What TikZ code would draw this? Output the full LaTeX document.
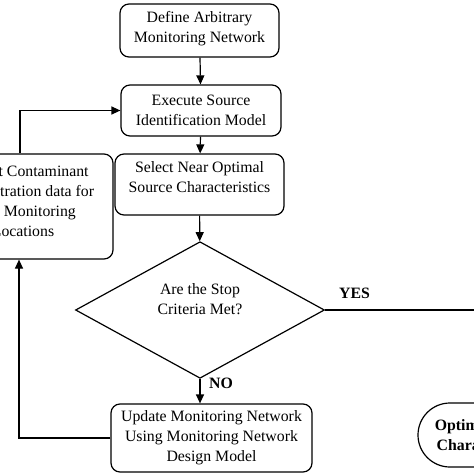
\documentclass[tikz,border=0pt]{standalone}
\usepackage{fontspec}
\setmainfont{Liberation Serif}
\usetikzlibrary{arrows.meta,shapes.geometric}

\begin{document}
\begin{tikzpicture}[x=1pt,y=-1pt,
    every node/.style={font=\fontsize{15.8}{20}\selectfont},
    box/.style={draw, line width=1.2pt, rounded corners=9pt, align=center, inner sep=0pt},
    decision/.style={draw, diamond, line width=1.2pt, align=center, inner sep=0pt},
    stadium/.style={draw, line width=1.2pt, rounded corners=32pt, align=center, inner sep=0pt},
    flow/.style={line width=1.2pt, -{Triangle[length=9pt,width=8pt]}}]
          \useasboundingbox (0,0) rectangle (474,474);
          \clip (0,0) rectangle (474,474);
          \node[box, minimum width=159pt, minimum height=53pt, text depth=7pt] (define) at (199.5,30.5) {Define Arbitrary\\Monitoring Network};
          \node[box, minimum width=160pt, minimum height=51pt] (execute) at (201,110.5) {Execute Source\\Identification Model};
          \node[box, minimum width=169pt, minimum height=61pt, text depth=15pt] (select) at (199.5,184.5) {Select Near Optimal\\Source Characteristics};
          \node[decision, minimum width=249pt, minimum height=126pt, text depth=21pt] (stop) at (200,310) {Are the Stop\\Criteria Met?};
          \node[box, minimum width=201pt, minimum height=68pt] (update) at (211.5,438) {Update Monitoring Network\\Using Monitoring Network\\Design Model};
          \node[box, minimum width=180pt, minimum height=105pt, text depth=10pt] (collect) at (23,206.5) {Collect Contaminant\\Concentration data for\\New Monitoring\\Locations};
          \node[stadium, minimum width=140pt, minimum height=64pt, font=\fontsize{15.8}{20}\selectfont\bfseries] (optimal) at (488,435) {Optimal Source\\Characteristics};
          \node[font=\fontsize{15.8}{20}\selectfont\bfseries] (yes) at (354.5,293) {YES};
          \node[font=\fontsize{15.8}{20}\selectfont\bfseries] (no) at (221,383) {NO};
          \draw[flow] (define) -- (execute);
          \draw[flow] (execute) -- (select);
          \draw[flow] (select) -- (stop);
          \draw[flow] (stop) -- (stop.south |- update.north);
          \draw[flow] (stop.east) -| (optimal.north);
          \draw[flow] (update.west) -| ([xshift=-4pt]collect.south);
          \draw[flow] ([xshift=-3pt]collect.north) |- (execute.west);
        \end{tikzpicture}
\end{document}
